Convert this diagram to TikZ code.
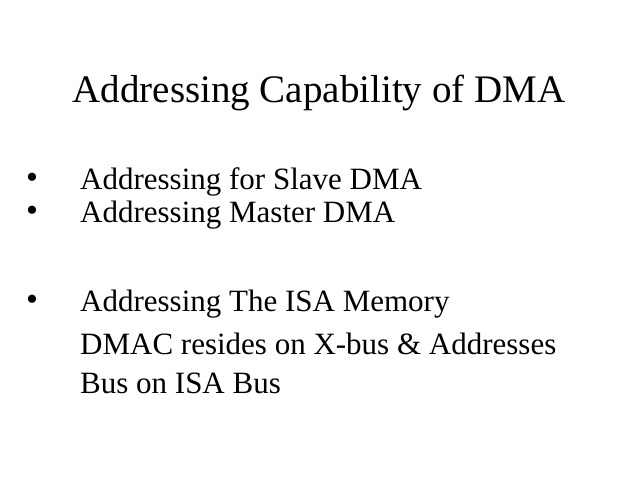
\documentclass[tikz,border=0pt]{standalone}
\usepackage{fontspec}
\setmainfont{Liberation Serif}
\begin{document}
\begin{tikzpicture}[x=1pt,y=1pt,
  body/.style={anchor=base west,inner sep=0pt,font=\fontsize{31}{36}\selectfont},
  dot/.style={anchor=base west,inner sep=0pt,font=\fontsize{34}{38}\selectfont}]
\useasboundingbox[fill=white] (0,0) rectangle (638,478);
\node[anchor=base,inner sep=0pt,font=\fontsize{39}{44}\selectfont] (t) at (319,478-103) {Addressing Capability of DMA};
\node[dot] (b1) at (26,478-189) {•};
\node[body] (l1) at (80,478-190) {Addressing for Slave DMA};
\node[dot] (b2) at (26,478-222) {•};
\node[body] (l2) at (80,478-223) {Addressing Master DMA};
\node[dot] (b3) at (26,478-311) {•};
\node[body] (l3) at (80,478-312) {Addressing The ISA Memory};
\node[body] (l4) at (80,478-355) {DMAC resides on X-bus \& Addresses};
\node[body] (l5) at (80,478-394) {Bus on ISA Bus};
\end{tikzpicture}
\end{document}
